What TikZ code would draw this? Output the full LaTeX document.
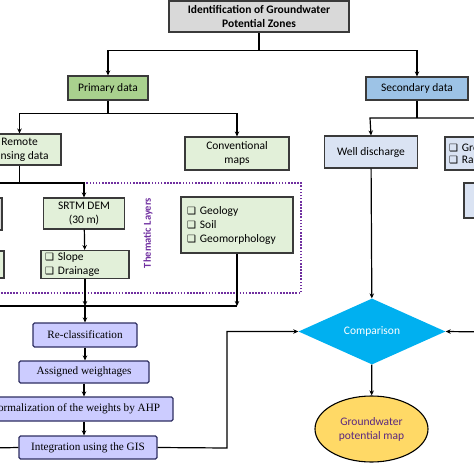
\documentclass[tikz,border=0pt]{standalone}
\usepackage{fontspec}
\setmainfont{Carlito}
\newfontfamily\timesface{Liberation Serif}
\newfontfamily\symface{DejaVu Sans}
\usetikzlibrary{arrows.meta,shapes.geometric}

\definecolor{topgray}{HTML}{D9D9D9}
\definecolor{primgreen}{HTML}{A9D18E}
\definecolor{secblue}{HTML}{9DC3E6}
\definecolor{palegreen}{HTML}{E2F0D9}
\definecolor{paleblue}{HTML}{DAE3F3}
\definecolor{lavender}{HTML}{CCCCFF}
\definecolor{cmpcyan}{HTML}{00B0F0}
\definecolor{mapgold}{HTML}{FFD966}
\definecolor{themepurple}{HTML}{7030A0}
\definecolor{boxline}{HTML}{3A3A3A}

\newcommand{\chk}{{\symface\fontsize{10}{10}\selectfont ❑}\hspace{4pt}}

\begin{document}
\begin{tikzpicture}[x=1pt, y=-1pt, >={Stealth[length=5pt,width=4.5pt]},
                every node/.style={font=\fontsize{11.5}{14}\selectfont, align=center, inner sep=2pt},
                box/.style={draw=boxline, line width=1.1pt},
                lav/.style={box, fill=lavender, rounded corners=1.5pt, draw=boxline!80!blue,
                            font=\timesface\fontsize{11.2}{13}\selectfont},
                every edge/.style={draw, line width=1.2pt, black}]

                \useasboundingbox (0,0) rectangle (474,474);

                % thematic layers frame
                \draw[themepurple, line width=1.6pt, dash pattern=on 1.6pt off 1.5pt]
                    (-10,183) rectangle (301,293);
                \node[rotate=90, text=themepurple, font=\bfseries\fontsize{10.5}{12}\selectfont] (thm) at (148,233) {Thematic Layers};

                \node (top) [box, fill=topgray, line width=1.5pt, font=\bfseries\fontsize{11.5}{14}\selectfont,
                             minimum width=180pt, minimum height=31pt] at (259,16.5)
                      {Identification of Groundwater\\Potential Zones};
                \node (prim) [box, fill=primgreen, minimum width=80pt, minimum height=24pt] at (108,88) {Primary data};
                \node (sec) [box, fill=secblue, minimum width=102pt, minimum height=23pt] at (417,88.5) {Secondary data};

                % primary branch
                \node (rs) [box, fill=palegreen, minimum width=83pt, minimum height=31pt] at (19.5,149.5) {Remote\\sensing data};
                \node (conv) [box, fill=palegreen, minimum width=104pt, minimum height=33pt] at (237,153.5) {Conventional\\maps};
                \node (lgray) [box, fill=topgray, minimum width=84pt, minimum height=32pt] at (-40,214) {};
                \node (lgreen) [box, fill=palegreen, minimum width=88pt, minimum height=27pt] at (-40,264.5) {};
                \node (srtm) [box, fill=palegreen, minimum width=81pt, minimum height=31pt] at (84,213.5) {SRTM DEM\\(30 m)};
                \node (slope) [box, fill=palegreen, align=left, minimum width=88pt, minimum height=27pt,
                               text width=80pt] at (85,264.5) {\chk Slope\\\chk Drainage};
                \node (geo) [box, fill=palegreen, align=left, minimum width=112pt, minimum height=56pt,
                             text width=100pt] at (237,225) {\chk Geology\\\chk Soil\\\chk Geomorphology};

                % secondary branch
                \node (well) [box, fill=paleblue, minimum width=93pt, minimum height=32pt] at (371,152) {Well discharge};
                \node (gw) [box, fill=paleblue, align=left, minimum width=130pt, minimum height=33pt,
                            text width=122pt, font=\fontsize{11.5}{12.5}\selectfont] at (510,153.5) {\chk Groundwater level\\\chk Rainfall};
                \node (rbox) [box, fill=paleblue, minimum width=100pt, minimum height=35pt] at (514,200.5) {};

                % weighting steps
                \node (recl) [lav, minimum width=104pt, minimum height=24pt] at (85,335) {Re-classification};
                \node (asg) [lav, minimum width=130pt, minimum height=22pt] at (84,372) {Assigned weightages};
                \node (norm) [lav, minimum width=196pt, minimum height=24pt] at (75,409) {Normalization of the weights by AHP};
                \node (integ) [lav, minimum width=138pt, minimum height=23pt] at (88,447.5) {Integration using the GIS};

                \node (cmp) [diamond, fill=cmpcyan, inner sep=0pt, minimum width=147pt, minimum height=63pt,
                             text=white] at (372,331.5) {Comparison};
                \node (gpm) [ellipse, draw=black, line width=1.1pt, fill=mapgold, minimum width=113pt, minimum height=66pt,
                             text=themepurple!80!black] at (371.5,429) {Groundwater\\potential map};

                \coordinate (lin) at (-10,183);
                \coordinate (lcol) at (-10,306);
                \coordinate (lint) at (-10,448);
                \coordinate (rin) at (490,332);
                \coordinate (rsec) at (370,118);

                \begin{scope}[line width=1.2pt]
                \draw[->] (top.south) -- ++(0,18) -| (sec.north);
                \draw[->] (top.south) ++(0,18) -| (prim.north);
                \draw[->] (prim.south) -- ++(0,13) -| (rs.north);
                \draw[->] (prim.south) ++(0,13) -| (conv.north);
                \draw (sec.south) -- (sec.south |- rsec);
                \draw[->] (gw.north |- rsec) -- (rsec) -- (well.north);
                \draw[->] (gw.north |- rsec) -- (gw.north);
                \draw (rs.south) -- (rs.south |- lin);
                \draw[->] (lin) -| (srtm.north);
                \draw (lcol) -- (lcol -| conv.south);
                \draw (lint) -- (integ.west);
                \draw[->] (integ.east) -- (227,448) |- (cmp.west);
                \end{scope}

                \path[->]
                    (srtm) edge (slope) % DEM derived layers
                    (slope.south) edge (slope.south |- lcol)
                    (geo.south) edge (geo.south |- lcol)
                    (recl.north |- lcol) edge (recl.north)
                    (recl) edge (recl.south |- asg.north)
                    (asg.south) edge (asg.south |- norm.north)
                    (norm.south -| asg.south) edge (asg.south |- integ.north)
                    (well) edge (cmp)
                    (rin) edge (cmp.east)
                    (cmp) edge (gpm);

                \end{tikzpicture}
\end{document}
